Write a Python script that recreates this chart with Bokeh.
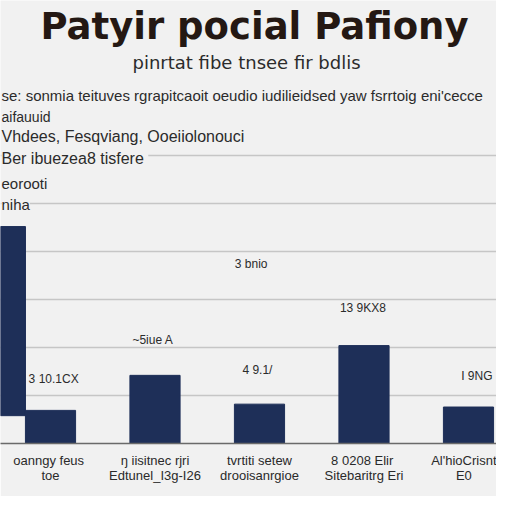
from bokeh.plotting import figure
from bokeh.models import Label, FixedTicker, Range1d
from bokeh.embed import file_html
from bokeh.resources import INLINE

# ---- data ----
title_text = "Patyir pocial Pafiony"
subtitle_text = "pinrtat fibe tnsee fir bdlis"
note_lines = [
    "se: sonmia teituves rgrapitcaoit oeudio iudilieidsed yaw fsrrtoig eni'cecce",
    "aifauuid",
    "Vhdees, Fesqviang, Ooeiiolonouci",
    "Ber ibuezea8  tisfere",
    "eorooti",
    "niha",
]
note_y = [72.5, 68.1, 64.0, 59.4, 54.2, 49.8]
note_size = ["15px", "14px", "16px", "16px", "15px", "15px"]

bar_x = [1, 2, 3, 4, 5]
bar_values = [6.9, 14.2, 8.2, 20.4, 7.6]
tick_labels = [
    "oanngy  feus\ntoe",
    "ŋ iisitnec rjri\nEdtunel_I3g-I26",
    "tvrtiti setew\ndrooisanrgioe",
    "8 0208  Elir\nSitebaritrg Eri",
    "Al'hioCrisnt\nE0",
]
tall_x = [0.641]
tall_top = [45.2]
tall_bottom = [5.8]

value_labels = ["3 10.1CX", "~5iue A", "3 bnio", "4 9.1/", "13 9KX8", "I 9NG"]
value_label_x = [1.03, 1.98, 2.92, 2.98, 3.99, 5.08]
value_label_y = [13.5, 21.5, 37.5, 15.4, 28.3, 14.0]

grid_ticks = [10, 20, 30, 40, 50, 60]
title_pos = (2.952, 86.8)
subtitle_pos = (2.876, 79.4)

BG = "#f1f1f1"
NAVY = "#1e2f58"

p = figure(width=496, height=496, output_backend="svg", toolbar_location=None,
           x_range=Range1d(0.5215, 5.268), y_range=Range1d(0, 92.3),
           min_border_left=0, min_border_right=0, min_border_top=0,
           min_border_bottom=53,
           background_fill_color=BG, border_fill_color=BG, outline_line_color=None,
           title=None)

p.vbar(x=tall_x, top=tall_top, bottom=tall_bottom, width=0.239, color=NAVY)
p.vbar(x=bar_x, top=bar_values, width=0.48, color=NAVY)

p.yaxis.visible = False
p.ygrid.ticker = FixedTicker(ticks=grid_ticks)
p.ygrid.grid_line_color = "#c6c6c6"
p.ygrid.grid_line_width = 1.5
p.xgrid.grid_line_color = None

p.xaxis.ticker = FixedTicker(ticks=bar_x)
p.xaxis.major_label_overrides = {x: t for x, t in zip(bar_x, tick_labels)}
p.xaxis.major_tick_line_color = None
p.xaxis.minor_tick_line_color = None
p.xaxis.axis_line_color = "#6a6a6a"
p.xaxis.axis_line_width = 1.5
p.xaxis.major_label_text_font = "Liberation Sans"
p.xaxis.major_label_text_font_size = "13px"
p.xaxis.major_label_text_line_height = 1.05
p.xaxis.major_label_text_color = "#2a2a2a"
p.xaxis.major_label_standoff = 3

p.add_layout(Label(x=title_pos[0], y=title_pos[1], text=title_text,
                   text_font="DejaVu Sans", text_font_size="37px",
                   text_font_style="bold", text_color="#241813",
                   text_align="center", text_baseline="middle"))
p.add_layout(Label(x=subtitle_pos[0], y=subtitle_pos[1], text=subtitle_text,
                   text_font="DejaVu Sans", text_font_size="18px",
                   text_color="#2b2b2b",
                   text_align="center", text_baseline="middle"))

for t, y, fs in zip(note_lines, note_y, note_size):
    p.add_layout(Label(x=0.5215, y=y, text=t, text_font="Liberation Sans",
                       text_font_size=fs, text_color="#2b2b2b",
                       text_baseline="middle", x_offset=1,
                       background_fill_color=BG))

for t, x, y in zip(value_labels, value_label_x, value_label_y):
    p.add_layout(Label(x=x, y=y, text=t, text_font="Liberation Sans",
                       text_font_size="12px", text_color="#2b2b2b",
                       text_align="center", text_baseline="middle"))

open("out.html", "w").write(file_html(p, INLINE))
